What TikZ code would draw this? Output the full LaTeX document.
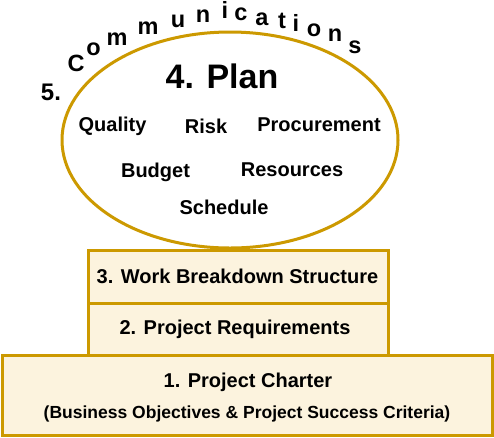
\documentclass[tikz,border=0pt]{standalone}
\usepackage{fontspec}
\setmainfont{Liberation Sans}
\usetikzlibrary{shapes.geometric}
\definecolor{gold}{RGB}{204,153,0}
\definecolor{parch}{RGB}{252,243,222}
\tikzset{
  outline/.style={draw=gold, line width=3pt},
  layerbox/.style={outline, fill=parch, rectangle, inner sep=0pt},
  lbl/.style={font=\bfseries\fontsize{20}{24}\selectfont, inner sep=0pt},
  arcl/.style={font=\bfseries\fontsize{23.5}{26}\selectfont, inner sep=0pt},
}
\begin{document}
\begin{tikzpicture}[x=1pt,y=-1pt]
\useasboundingbox (0,0) rectangle (494,437);
% layers
\node[layerbox, minimum width=490pt, minimum height=80pt] (charter) at (247,395) {};
\node[layerbox, minimum width=300pt, minimum height=52pt] (req) at (238,329) {};
\node[layerbox, minimum width=300pt, minimum height=53pt] (wbs) at (238,276.5) {};
% plan ellipse
\node[outline, fill=white, ellipse, minimum width=336pt, minimum height=216pt, inner sep=0pt] (plan) at (230,140) {};
% texts
\node[lbl] (t1) at (248,382) {1. Project Charter};
\node[font=\bfseries\fontsize{17.5}{20}\selectfont, inner sep=0pt] (t1b) at (247,414) {(Business Objectives \& Project Success Criteria)};
\node[lbl] (t2) at (235,329) {2. Project Requirements};
\node[lbl] (t3) at (237.5,276) {3. Work Breakdown Structure};
\node[font=\bfseries\fontsize{34}{38}\selectfont, inner sep=0pt] (t4) at (222,76) {4. Plan};
\node[lbl] (q) at (112.5,126) {Quality};
\node[lbl] (r) at (206,126) {Risk};
\node[lbl] (p) at (319,125) {Procurement};
\node[lbl] (b) at (155.5,172) {Budget};
\node[lbl] (rs) at (292,170) {Resources};
\node[lbl] (s) at (224,207) {Schedule};
\node[font=\bfseries\fontsize{24}{26}\selectfont, inner sep=0pt] (five) at (51,92) {5.};
% communications arc letters
\node[arcl] (c1) at (76,63) {C};
\node[arcl] (c2) at (93.5,49) {o};
\node[arcl] (c3) at (117,39) {m};
\node[arcl] (c4) at (148,28) {m};
\node[arcl] (c5) at (178,21) {u};
\node[arcl] (c6) at (203,16) {n};
\node[arcl] (c7) at (225,10) {i};
\node[arcl] (c8) at (241,14) {c};
\node[arcl] (c9) at (262,19) {a};
\node[arcl] (c10) at (282,21) {t};
\node[arcl] (c11) at (296,23) {i};
\node[arcl] (c12) at (314,30) {o};
\node[arcl] (c13) at (335,35) {n};
\node[arcl] (c14) at (355,47) {s};
\end{tikzpicture}
\end{document}
